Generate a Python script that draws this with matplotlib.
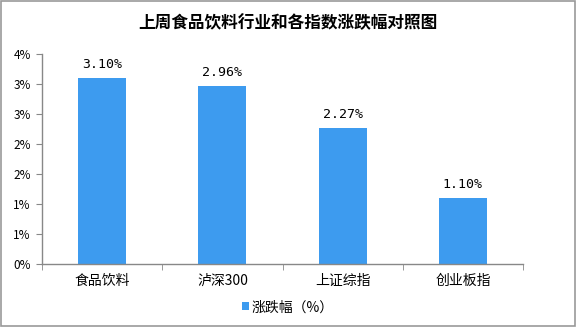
import matplotlib
matplotlib.use("Agg")
import matplotlib.pyplot as plt
from matplotlib.patches import Rectangle

plt.rcParams['font.family'] = ['Noto Sans CJK SC', 'DejaVu Sans']

# --- DATA ---
categories = ["食品饮料", "泸深300", "上证综指", "创业板指"]
values = [3.10, 2.96, 2.27, 1.10]
value_labels = ["3.10%", "2.96%", "2.27%", "1.10%"]
yticks = [0, 0.5, 1.0, 1.5, 2.0, 2.5, 3.0, 3.5]
ytick_labels = ["0%", "1%", "1%", "2%", "2%", "3%", "3%", "4%"]
title = "上周食品饮料行业和各指数涨跌幅对照图"
legend_label = "涨跌幅（%）"

bar_color = "#3d9bef"
axis_color = "#888888"

fig = plt.figure(figsize=(5.76, 3.27), dpi=100)
ax = fig.add_axes([0.073, 0.193, 0.835, 0.642])

x = list(range(len(categories)))
ax.bar(x, values, width=0.4, color=bar_color, zorder=2, label=legend_label)

for xi, v, lab in zip(x, values, value_labels):
    ax.annotate(lab, (xi, v), xytext=(0, 5), textcoords="offset points",
                ha="center", va="bottom", fontsize=9.5, family="DejaVu Sans Mono")

ax.set_xlim(-0.5, len(categories) - 0.5)
ax.set_ylim(0, 3.5)
ax.set_yticks(yticks)
ax.set_yticklabels(ytick_labels, fontsize=8.5)
ax.set_xticks(x)
ax.set_xticklabels(categories, fontsize=10)
ax.set_xticks([i - 0.5 for i in range(len(categories) + 1)], minor=True)
ax.tick_params(axis="x", which="major", length=0, pad=7)
ax.tick_params(axis="x", which="minor", length=4, color=axis_color, direction="out")
ax.tick_params(axis="y", length=4, color=axis_color, direction="out", pad=4)

for s in ["top", "right"]:
    ax.spines[s].set_visible(False)
for s in ["left", "bottom"]:
    ax.spines[s].set_color(axis_color)
    ax.spines[s].set_linewidth(1)

fig.text(0.5, 0.93, title, ha="center", va="center", fontsize=12, fontweight="bold")

ax.legend(loc="center", bbox_to_anchor=(0.5, 0.06), bbox_transform=fig.transFigure,
          frameon=False, fontsize=10, handlelength=0.5, handleheight=0.5,
          handletextpad=0.2)

# outer frame
fig.patches.append(Rectangle((0.001, 0.002), 0.997, 0.995, transform=fig.transFigure,
                             fill=False, edgecolor="#999999", linewidth=1.2))

fig.savefig("out.png", dpi=100)
